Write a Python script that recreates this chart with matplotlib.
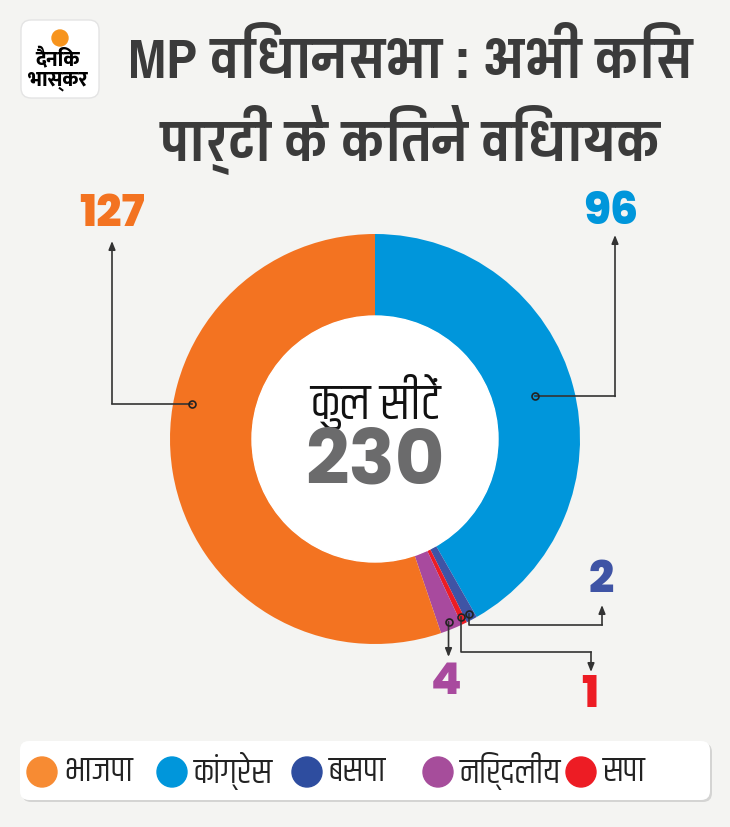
import glob
import numpy as np
import matplotlib
matplotlib.use("Agg")
import matplotlib.pyplot as plt
from matplotlib.font_manager import FontProperties
from matplotlib.patches import Circle, FancyBboxPatch

# data
parties = ["कांग्रेस", "बसपा", "सपा", "निर्दलीय", "भाजपा"]
seats = [96, 2, 1, 4, 127]
ring_colors = ["#0096DB", "#3F54A5", "#ED1C24", "#A84A9E", "#F37321"]
legend_parties = ["भाजपा", "कांग्रेस", "बसपा", "निर्दलीय", "सपा"]
legend_colors = ["#F78B33", "#0096DB", "#2E4D9F", "#A64D9B", "#ED1C24"]
total_label = "कुल सीटें"
title_lines = ["MP विधानसभा : अभी किस", "पार्टी के कितने विधायक"]


def font_file(*patterns):
    # first installed font file that matches
    for p in patterns:
        hits = sorted(glob.glob("/usr/share/fonts/**/" + p, recursive=True))
        if hits:
            return FontProperties(fname=hits[0])
    return FontProperties(family="DejaVu Sans")


f_title = font_file("PragatiNarrow-Bold.ttf", "Khand-Bold.ttf", "Mukta-ExtraBold.ttf")
f_num = font_file("Poppins-ExtraBold.ttf", "Poppins-Bold.ttf")
f_big = font_file("Poppins-Bold.ttf", "Poppins-ExtraBold.ttf")
f_reg = font_file("Khand-Regular.ttf", "Mukta-Regular.ttf")
f_logo = font_file("Mukta-ExtraBold.ttf", "Khand-Bold.ttf")

W, H = 730, 828
Y = lambda y: H - y   # image y -> plot y

fig = plt.figure(figsize=(W / 100, H / 100), dpi=100, facecolor="#f4f4f2")
ax = fig.add_axes([0, 0, 1, 1])

# donut
cx, cy = 375, Y(440)
R, r_in = 205, 123
ax.pie(seats, colors=ring_colors, startangle=90, counterclock=False,
       center=(cx, cy), radius=R, wedgeprops=dict(width=R - r_in, linewidth=0),
       frame=True)
ax.set_xlim(0, W)
ax.set_ylim(0, H)
ax.set_aspect("equal")
ax.axis("off")
ax.add_patch(Circle((cx, cy), r_in, color="white", zorder=3))
ax.text(cx, Y(402), total_label, fontproperties=f_reg, fontsize=36, color="#111111",
        ha="center", va="center", zorder=4)
ax.text(cx, Y(466), str(sum(seats)), fontproperties=f_big, fontsize=55, color="#6b6b6c",
        ha="center", va="center", zorder=4)

# logo
ax.add_patch(FancyBboxPatch((21, Y(99)), 78, 78, boxstyle="round,pad=0,rounding_size=10",
                            fc="white", ec="#e4e4e4", lw=1, zorder=2))
ax.add_patch(Circle((60, Y(39)), 8, color="#F7941D", zorder=3))
ax.text(58, Y(60), "दैनिक", fontproperties=f_logo, fontsize=15, ha="center", va="center", zorder=3)
ax.text(58, Y(81), "भास्कर", fontproperties=f_logo, fontsize=15, ha="center", va="center", zorder=3)

# title
for line, yy in zip(title_lines, [60, 140]):
    ax.text(410, Y(yy), line, fontproperties=f_title, fontsize=44, color="#3b3b3b",
            ha="center", va="center")

# mid angles of each wedge (degrees, matplotlib convention)
ends = 90 - np.cumsum(seats) / sum(seats) * 360
mids = ends + np.array(seats) / sum(seats) * 180


def pt(angle, rad):
    a = np.deg2rad(angle)
    return cx + rad * np.cos(a), cy + rad * np.sin(a)


def leader(path, label, color, lab_xy):
    xs = [p[0] for p in path]
    ys = [p[1] for p in path]
    ax.plot(xs[:-1], ys[:-1], color="#333333", lw=1.2, zorder=5)
    ax.annotate("", xy=path[-1], xytext=path[-2],
                arrowprops=dict(arrowstyle="-|>,head_length=0.5,head_width=0.2",
                                color="#333333", lw=1.2, shrinkA=0, shrinkB=0), zorder=5)
    ax.plot(*path[0], marker="o", ms=5, mfc="none", mec="#222222", mew=1.2, zorder=6)
    ax.text(lab_xy[0], lab_xy[1], label, fontproperties=f_num, fontsize=32, color=color,
            ha="center", va="center", zorder=6)


# congress
p0 = pt(mids[0], 166)
leader([p0, (615, p0[1]), (615, Y(236))], str(seats[0]), "#0096DB", (611, Y(214)))
# bjp
p0 = pt(169, 186)
leader([p0, (112, p0[1]), (112, Y(242))], str(seats[4]), "#F37321", (112, Y(216)))
# bsp
p0 = pt(mids[1], 199)
leader([p0, (p0[0], Y(626)), (602, Y(626)), (602, Y(606))], str(seats[1]), "#3F54A5", (601, Y(582)))
# sp
p0 = pt(mids[2], 198)
leader([p0, (p0[0], Y(653)), (591, Y(653)), (591, Y(673))], str(seats[2]), "#ED1C24", (590, Y(697)))
# independent
p0 = pt(mids[3], 197)
leader([p0, (p0[0], Y(658))], str(seats[3]), "#A84A9E", (446, Y(684)))

# legend box
ax.add_patch(FancyBboxPatch((22, Y(803)), 690, 59, boxstyle="round,pad=0,rounding_size=9",
                            fc="#9a9a9a", ec="none", alpha=0.35, zorder=1))
ax.add_patch(FancyBboxPatch((20, Y(801)), 690, 59, boxstyle="round,pad=0,rounding_size=9",
                            fc="white", ec="none", zorder=2))
dot_x = [42, 172, 307, 438, 581]
for x0, name, col in zip(dot_x, legend_parties, legend_colors):
    ax.add_patch(Circle((x0, Y(773)), 15, color=col, zorder=3))
    ax.text(x0 + 22, Y(771), name, fontproperties=f_reg, fontsize=25, color="#222222",
            ha="left", va="center", zorder=3)

fig.savefig("out.png", dpi=100, facecolor=fig.get_facecolor())
